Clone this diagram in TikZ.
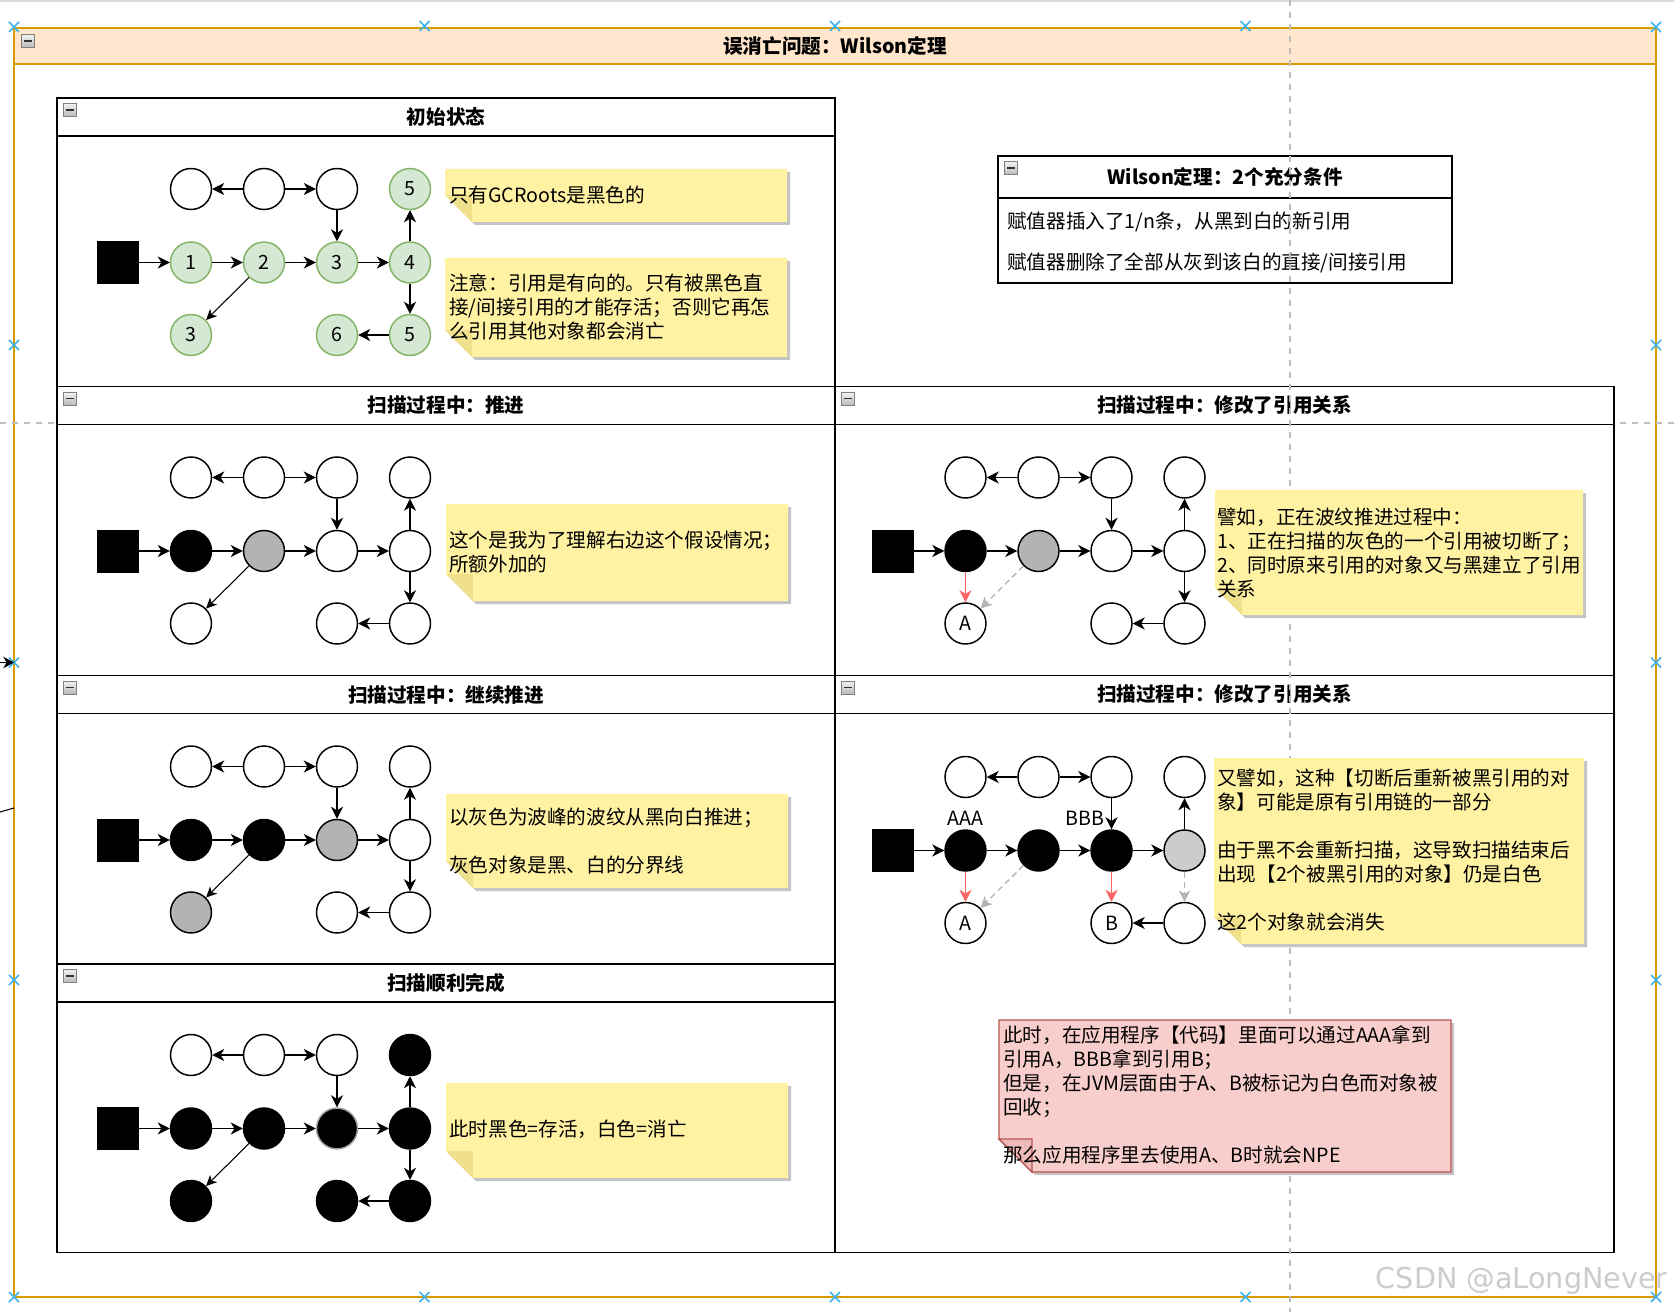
\documentclass[tikz,border=0pt]{standalone}
\usepackage{fontspec}
\setmainfont{Noto Sans CJK SC}
\newfontfamily\wmfont{DejaVu Sans}
\usetikzlibrary{arrows.meta}
\definecolor{orangeS}{HTML}{D79B00}
\definecolor{orangeF}{HTML}{FFE6CC}
\definecolor{greenF}{HTML}{D5E8D4}
\definecolor{greenS}{HTML}{82B366}
\definecolor{noteY}{HTML}{FFF2A3}
\definecolor{noteYd}{HTML}{F0E08C}
\definecolor{noteSh}{HTML}{C4C4C4}
\definecolor{pinkF}{HTML}{F8CECC}
\definecolor{pinkS}{HTML}{B85450}
\definecolor{pinkD}{HTML}{EDBBB9}
\definecolor{redA}{HTML}{FF6666}
\definecolor{grayA}{HTML}{B3B3B3}
\definecolor{grayL}{HTML}{CCCCCC}
\definecolor{guide}{HTML}{BDBDBD}
\definecolor{xblue}{HTML}{3DB2F0}
\tikzset{
  wc/.style={circle, draw=black, line width=1.1pt, fill=white, minimum size=30.75pt, inner sep=0pt},
  gc/.style={wc, fill=greenF, draw=greenS},
  bc/.style={wc, fill=black},
  grc/.style={wc, fill=grayA},
  lgc/.style={wc, fill=grayL},
  sqn/.style={rectangle, fill=black, minimum width=31.5pt, minimum height=32.25pt, inner sep=0pt},
  ar/.style={line width=1.1pt, -{Stealth[length=9pt,width=9pt,inset=2.7pt]}},
  ard/.style={line width=0.8pt, -{Stealth[length=8pt,width=7.5pt,inset=2.2pt]}},
  arr/.style={ar, draw=redA},
  arg/.style={line width=1pt, draw=grayA, dash pattern=on 4.5pt off 3pt, -{Stealth[length=8.5pt,width=8.5pt,inset=2.5pt]}},
  panelline/.style={draw=black, line width=1.2pt},
  hdr/.style={font=\fontsize{14.7}{18}\selectfont\bfseries},
  notetext/.style={anchor=west, align=left},
  iconbox/.style={rectangle, draw=gray, top color=gray!10, bottom color=gray!55, minimum size=9.75pt, inner sep=0pt, line width=0.5pt},
  xm/.style={xblue, line width=1.1pt}
}
\newcommand\collapseicon[3]{%
  \node[iconbox] (#1) at (#2,#3) {};
  \draw[line width=1.4pt, black!80] ([xshift=-2.7pt]#1.center) -- ([xshift=2.7pt]#1.center);
}
\newcommand\panelbox[6]{%
  \draw[panelline, fill=white] (#2,#3) rectangle (#4,#5);
  \draw[panelline] (#2,#3+38) -- (#4,#3+38);
  \node[hdr] (#1-title) at ({(#2+#4)/2},#3+19) {#6};
  \collapseicon{#1-icon}{#2+13}{#3+12}
}
\newcommand\ynote[4]{%
  \fill[noteSh] (#1+3,#2+3) -- (#3+3,#2+3) -- (#3+3,#4+3) -- (#1+30,#4+3) -- (#1+3,#4-24) -- cycle;
  \fill[noteY] (#1,#2) -- (#3,#2) -- (#3,#4) -- (#1+27,#4) -- (#1,#4-27) -- cycle;
  \fill[noteYd] (#1,#4-27) -- (#1+27,#4-27) -- (#1+27,#4) -- cycle;
}
\newcommand\pnote[4]{%
  \fill[noteSh] (#1+3,#2+3) -- (#3+3,#2+3) -- (#3+3,#4+3) -- (#1+36,#4+3) -- (#1+3,#4-30) -- cycle;
  \filldraw[fill=pinkF, draw=pinkS, line width=0.9pt] (#1,#2) -- (#3,#2) -- (#3,#4) -- (#1+33,#4) -- (#1,#4-33) -- cycle;
  \filldraw[fill=pinkD, draw=pinkS, line width=0.9pt] (#1,#4-33) -- (#1+33,#4-33) -- (#1+33,#4) -- cycle;
}
\newcommand\xmark[3]{%
  \coordinate (#1) at (#2,#3);
  \draw[xm] ([shift={(-3.75pt,-3.75pt)}]#1) -- ([shift={(3.75pt,3.75pt)}]#1)
            ([shift={(-3.75pt,3.75pt)}]#1) -- ([shift={(3.75pt,-3.75pt)}]#1);
}
\newcommand\commonedges{%
  \draw[ar] (sq) -- (m1);
  \draw[ar] (m1) -- (m2);
  \draw[ar] (m2) -- (m3);
  \draw[ar] (m3) -- (m4);
  \draw[ar] (t2) -- (t1);
  \draw[ar] (t2) -- (t3);
  \draw[ar] (t3) -- (m3);
  \draw[ar] (m4) -- (t4);
  \draw[ar] (b4) -- (b3);
}
\begin{document}
\begin{tikzpicture}[x=0.75pt, y=-0.75pt, every node/.style={font=\fontsize{14.7}{18}\selectfont, inner sep=0pt}]
\useasboundingbox (0,0) rectangle (1674,1312);
\fill[white] (0,0) rectangle (1674,1312);
% top gray edge
\coordinate (tg1) at (0,1.5); \coordinate (tg2) at (1674,1.5);
\draw[gray!30, line width=1.5pt] (tg1) -- (tg2);
% outer box
\draw[orangeS, line width=1.1pt] (14,28) rectangle (1656,1297);
\filldraw[fill=orangeF, draw=orangeS, line width=1.1pt] (14,28) rectangle (1656,64);
\node[hdr] (maintitle) at (835,46) {误消亡问题：Wilson定理};
\collapseicon{mainicon}{28}{41}
% horizontal guide (behind panels)
\coordinate (gh1) at (0,423); \coordinate (gh2) at (1674,423);
\draw[guide, line width=1.1pt, dash pattern=on 4.5pt off 4.5pt] (gh1) -- (gh2);
% panels
\panelbox{p1}{57}{98}{835}{386.5}{初始状态}
\panelbox{p2}{57}{386.5}{835}{675.5}{扫描过程中：推进}
\panelbox{p3}{57}{675.5}{835}{964}{扫描过程中：继续推进}
\panelbox{p4}{57}{964}{835}{1252.5}{扫描顺利完成}
\panelbox{p5}{835}{386.5}{1614}{675.5}{扫描过程中：修改了引用关系}
\panelbox{p6}{835}{675.5}{1614}{1252.5}{扫描过程中：修改了引用关系}
% Wilson box
\draw[line width=1.1pt, fill=white] (998,156) rectangle (1452,283);
\draw[line width=1.1pt] (998,198) -- (1452,198);
\node[hdr] (wtitle) at (1225,177) {Wilson定理：2个充分条件};
\collapseicon{wicon}{1011}{168}
\node[anchor=west] (w1) at (1007,222) {赋值器插入了1/n条，从黑到白的新引用};
\node[anchor=west] (w2) at (1007,263) {赋值器删除了全部从灰到该白的直接/间接引用};
% vertical guide
\coordinate (gv1) at (1290,0); \coordinate (gv2) at (1290,1312);
\draw[guide, line width=1.1pt, dash pattern=on 4.5pt off 4.5pt] (gv1) -- (gv2);

% ---------- Panel 1: initial ----------
\begin{scope}[shift={(0,98)}, name prefix=a-]
\node[wc] (t1) at (191,91) {};
\node[wc] (t2) at (264,91) {};
\node[wc] (t3) at (337,91) {};
\node[gc] (t4) at (410,91) {5};
\node[sqn] (sq) at (118,164.5) {};
\node[gc] (m1) at (191,164.5) {1};
\node[gc] (m2) at (264,164.5) {2};
\node[gc] (m3) at (337,164.5) {3};
\node[gc] (m4) at (410,164.5) {4};
\node[gc] (b1) at (191,237) {3};
\node[gc] (b3) at (337,237) {6};
\node[gc] (b4) at (410,237) {5};
\commonedges
\draw[ar] (m4) -- (b4);
\draw[ard] (m2) -- (b1);
\end{scope}

% ---------- Panel 2 ----------
\begin{scope}[shift={(0,386.5)}, name prefix=b-]
\node[wc] (t1) at (191,91) {};
\node[wc] (t2) at (264,91) {};
\node[wc] (t3) at (337,91) {};
\node[wc] (t4) at (410,91) {};
\node[sqn] (sq) at (118,164.5) {};
\node[bc] (m1) at (191,164.5) {};
\node[grc] (m2) at (264,164.5) {};
\node[wc] (m3) at (337,164.5) {};
\node[wc] (m4) at (410,164.5) {};
\node[wc] (b1) at (191,237) {};
\node[wc] (b3) at (337,237) {};
\node[wc] (b4) at (410,237) {};
\commonedges
\draw[ar] (m4) -- (b4);
\draw[ard] (m2) -- (b1);
\end{scope}

% ---------- Panel 3 ----------
\begin{scope}[shift={(0,675.5)}, name prefix=c-]
\node[wc] (t1) at (191,91) {};
\node[wc] (t2) at (264,91) {};
\node[wc] (t3) at (337,91) {};
\node[wc] (t4) at (410,91) {};
\node[sqn] (sq) at (118,164.5) {};
\node[bc] (m1) at (191,164.5) {};
\node[bc] (m2) at (264,164.5) {};
\node[grc] (m3) at (337,164.5) {};
\node[wc] (m4) at (410,164.5) {};
\node[grc] (b1) at (191,237) {};
\node[wc] (b3) at (337,237) {};
\node[wc] (b4) at (410,237) {};
\commonedges
\draw[ar] (m4) -- (b4);
\draw[ard] (m2) -- (b1);
\end{scope}

% ---------- Panel 4 ----------
\begin{scope}[shift={(0,964)}, name prefix=d-]
\node[wc] (t1) at (191,91) {};
\node[wc] (t2) at (264,91) {};
\node[wc] (t3) at (337,91) {};
\node[bc] (t4) at (410,91) {};
\node[sqn] (sq) at (118,164.5) {};
\node[bc] (m1) at (191,164.5) {};
\node[bc] (m2) at (264,164.5) {};
\node[bc, draw=gray!70] (m3) at (337,164.5) {};
\node[bc] (m4) at (410,164.5) {};
\node[bc] (b1) at (191,237) {};
\node[bc] (b3) at (337,237) {};
\node[bc] (b4) at (410,237) {};
\commonedges
\draw[ar] (m4) -- (b4);
\draw[ard] (m2) -- (b1);
\end{scope}

% ---------- Right panel 1 ----------
\begin{scope}[shift={(774.5,386.5)}, name prefix=e-]
\node[wc] (t1) at (191,91) {};
\node[wc] (t2) at (264,91) {};
\node[wc] (t3) at (337,91) {};
\node[wc] (t4) at (410,91) {};
\node[sqn] (sq) at (118,164.5) {};
\node[bc] (m1) at (191,164.5) {};
\node[grc] (m2) at (264,164.5) {};
\node[wc] (m3) at (337,164.5) {};
\node[wc] (m4) at (410,164.5) {};
\node[wc] (b1) at (191,237) {A};
\node[wc] (b3) at (337,237) {};
\node[wc] (b4) at (410,237) {};
\commonedges
\draw[ar] (m4) -- (b4);
\draw[arr] (m1) -- (b1);
\draw[arg] (m2) -- (b1);
\end{scope}

% ---------- Right panel 2 ----------
\begin{scope}[shift={(774.5,686)}, name prefix=f-]
\node[wc] (t1) at (191,91) {};
\node[wc] (t2) at (264,91) {};
\node[wc] (t3) at (337,91) {};
\node[wc] (t4) at (410,91) {};
\node[sqn] (sq) at (118,164.5) {};
\node[bc] (m1) at (191,164.5) {};
\node[bc] (m2) at (264,164.5) {};
\node[bc] (m3) at (337,164.5) {};
\node[lgc] (m4) at (410,164.5) {};
\node[wc] (b1) at (191,237) {A};
\node[wc] (b3) at (337,237) {B};
\node[wc] (b4) at (410,237) {};
\commonedges
\draw[arr] (m1) -- (b1);
\draw[arg] (m2) -- (b1);
\draw[arr] (m3) -- (b3);
\draw[arg] (m4) -- (b4);
\node (aaa) at (191,132) {AAA};
\node (bbb) at (310.5,132) {BBB};
\end{scope}

% ---------- notes ----------
\ynote{445}{169}{787}{222}
\node[notetext] (n1) at (449,195.5) {只有GCRoots是黑色的};
\ynote{445}{258}{787}{357}
\node[notetext] (n2) at (449,307.5) {注意：引用是有向的。只有被黑色直\\接/间接引用的才能存活；否则它再怎\\么引用其他对象都会消亡};
\ynote{446}{504}{788}{601}
\node[notetext] (n3) at (449,552.5) {这个是我为了理解右边这个假设情况；\\所额外加的};
\ynote{446}{794}{788}{888}
\node[notetext] (n4) at (449,841) {以灰色为波峰的波纹从黑向白推进；\\[18pt]灰色对象是黑、白的分界线};
\ynote{446}{1083}{788}{1178}
\node[notetext] (n5) at (449,1129) {此时黑色=存活，白色=消亡};
\ynote{1215}{490}{1583}{615}
\node[notetext] (n6) at (1217,552.5) {譬如，正在波纹推进过程中：\\1、正在扫描的灰色的一个引用被切断了；\\2、同时原来引用的对象又与黑建立了引用\\关系};
\ynote{1214}{758}{1584}{944}
\node[notetext] (n7) at (1217,849.5) {又譬如，这种【切断后重新被黑引用的对\\象】可能是原有引用链的一部分\\[18pt]由于黑不会重新扫描，这导致扫描结束后\\出现【2个被黑引用的对象】仍是白色\\[18pt]这2个对象就会消失};
\pnote{999}{1020}{1451}{1172}
\node[notetext] (n8) at (1003,1094.5) {此时，在应用程序【代码】里面可以通过AAA拿到\\引用A，BBB拿到引用B；\\但是，在JVM层面由于A、B被标记为白色而对象被\\回收；\\[18pt]那么应用程序里去使用A、B时就会NPE};

% ---------- editor marks ----------
\xmark{x1}{14}{27}
\xmark{x2}{424.5}{26}
\xmark{x3}{835}{26}
\xmark{x4}{1245.5}{26}
\xmark{x5}{1656}{27}
\xmark{x6}{14}{345}
\xmark{x7}{14}{662.5}
\xmark{x8}{14}{980}
\xmark{x9}{14}{1297}
\xmark{x10}{424.5}{1297}
\xmark{x11}{835}{1297}
\xmark{x12}{1245.5}{1297}
\xmark{x13}{1656}{1297}
\xmark{x14}{1656}{345}
\xmark{x15}{1656}{662.5}
\xmark{x16}{1656}{980}
\coordinate (la1) at (-4,662.5);
\draw[line width=1.1pt, -{Stealth[length=8pt,width=8.5pt,inset=2.5pt]}] (la1) -- (x7);
\coordinate (ll1) at (0,812); \coordinate (ll2) at (14,808);
\draw[line width=0.8pt] (ll1) -- (ll2);
% watermark
\node[font=\wmfont\fontsize{21.5}{24}\selectfont, text=gray!40, anchor=east] (wm) at (1668,1281) {CSDN @aLongNever};
\end{tikzpicture}
\end{document}
